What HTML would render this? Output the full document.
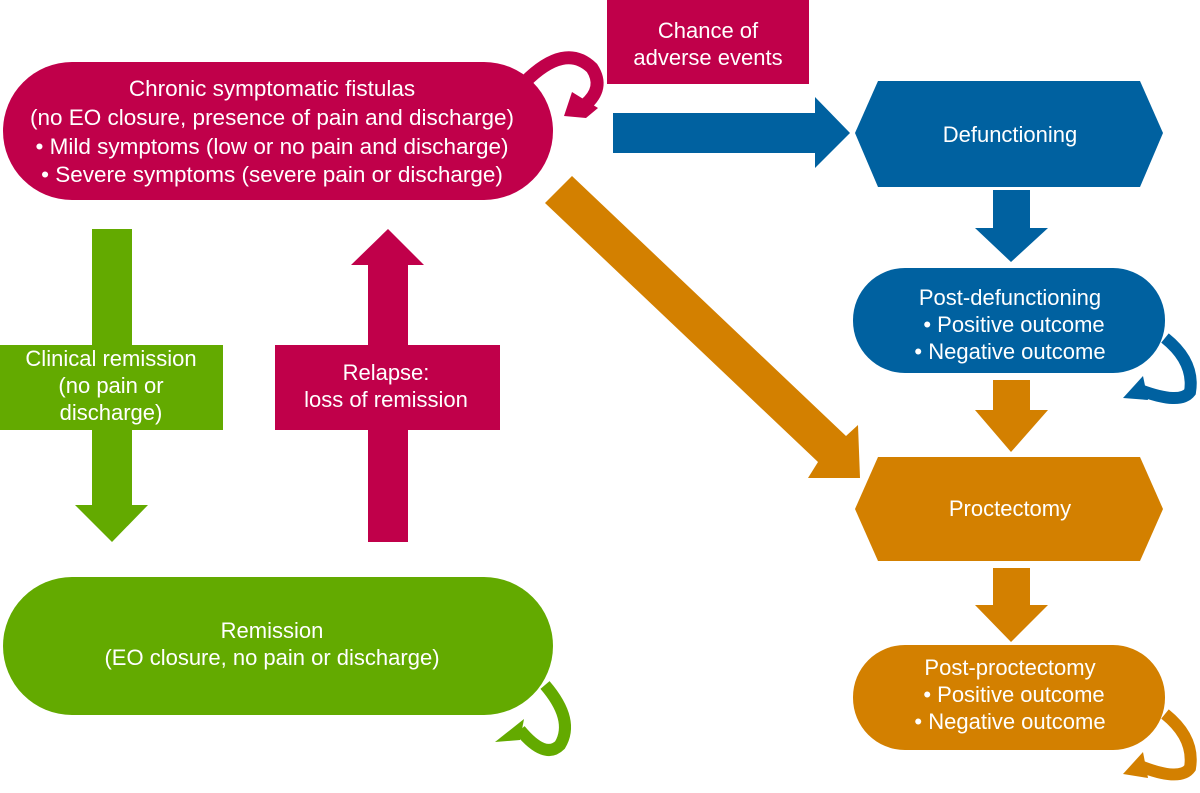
<!DOCTYPE html>
<html><head><meta charset="utf-8"><style>
html,body{margin:0;padding:0;background:#fff;}
svg text{font-family:"Liberation Sans",Arial,sans-serif;fill:#fff;text-anchor:middle;}
</style></head><body>
<svg width="1200" height="788" viewBox="0 0 1200 788" xmlns="http://www.w3.org/2000/svg">
<rect x="3" y="62" width="550" height="138" rx="69" fill="#c0004a"/>
<g font-size="22.5">
<text x="272" y="96">Chronic symptomatic fistulas</text>
<text x="272" y="125">(no EO closure, presence of pain and discharge)</text>
<text x="272" y="154">•  Mild symptoms (low or no pain and discharge)</text>
<text x="272" y="182">•  Severe symptoms (severe pain or discharge)</text>
</g>
<path d="M525,82 Q565,42 592,68 Q605,88 585,105" fill="none" stroke="#c0004a" stroke-width="13"/>
<polygon points="572,92 598,108 586,118 564,116" fill="#c0004a"/>
<rect x="607" y="0" width="202" height="84" fill="#c0004a"/>
<text x="708" y="38" font-size="22">Chance of</text>
<text x="708" y="65" font-size="22">adverse events</text>
<polygon points="613,113 815,113 815,97 850,133 815,168 815,153 613,153" fill="#0061a0"/>
<polygon points="855,133 878,81 1140,81 1163,133 1140,187 878,187" fill="#0061a0"/>
<text x="1010" y="142" font-size="22">Defunctioning</text>
<polygon points="993,190 1030,190 1030,228 1048,228 1011,262 975,228 993,228" fill="#0061a0"/>
<rect x="853" y="268" width="312" height="105" rx="52" fill="#0061a0"/>
<g font-size="22">
<text x="1010" y="305">Post-defunctioning</text>
<text x="1014" y="332">•  Positive outcome</text>
<text x="1010" y="359">• Negative outcome</text>
</g>
<path d="M1165,338 Q1195,362 1190,392 Q1180,405 1140,390" fill="none" stroke="#0061a0" stroke-width="12"/>
<polygon points="1123,398 1143,376 1148,400" fill="#0061a0"/>
<polygon points="993,380 1030,380 1030,410 1048,410 1011,452 975,410 993,410" fill="#d38000"/>
<polygon points="855,509 878,457 1140,457 1163,509 1140,561 878,561" fill="#d38000"/>
<text x="1010" y="516" font-size="22">Proctectomy</text>
<polygon points="993,568 1030,568 1030,605 1048,605 1011,642 975,605 993,605" fill="#d38000"/>
<rect x="853" y="645" width="312" height="105" rx="52" fill="#d38000"/>
<g font-size="22">
<text x="1010" y="675">Post-proctectomy</text>
<text x="1014" y="702">•  Positive outcome</text>
<text x="1010" y="729">• Negative outcome</text>
</g>
<path d="M1165,714 Q1195,738 1190,768 Q1180,782 1140,766" fill="none" stroke="#d38000" stroke-width="12"/>
<polygon points="1123,774 1143,752 1148,778" fill="#d38000"/>
<polygon points="545,203 572,176 846,436 858,425 860,478 808,478 818,462" fill="#d38000"/>
<polygon points="92,229 132,229 132,505 148,505 112,542 75,505 92,505" fill="#63aa00"/>
<rect x="0" y="345" width="223" height="85" fill="#63aa00"/>
<g font-size="22">
<text x="111" y="366">Clinical remission</text>
<text x="111" y="393">(no pain or</text>
<text x="111" y="420">discharge)</text>
</g>
<polygon points="388,229 424,265 408,265 408,542 368,542 368,265 351,265" fill="#c0004a"/>
<rect x="275" y="345" width="225" height="85" fill="#c0004a"/>
<text x="386" y="380" font-size="22">Relapse:</text>
<text x="386" y="407" font-size="22">loss of remission</text>
<rect x="3" y="577" width="550" height="138" rx="69" fill="#63aa00"/>
<text x="272" y="638" font-size="22">Remission</text>
<text x="272" y="665" font-size="22">(EO closure, no pain or discharge)</text>
<path d="M545,685 Q575,720 560,745 Q545,760 520,730" fill="none" stroke="#63aa00" stroke-width="12"/>
<polygon points="495,742 524,719 520,740" fill="#63aa00"/>
</svg>
</body></html>
